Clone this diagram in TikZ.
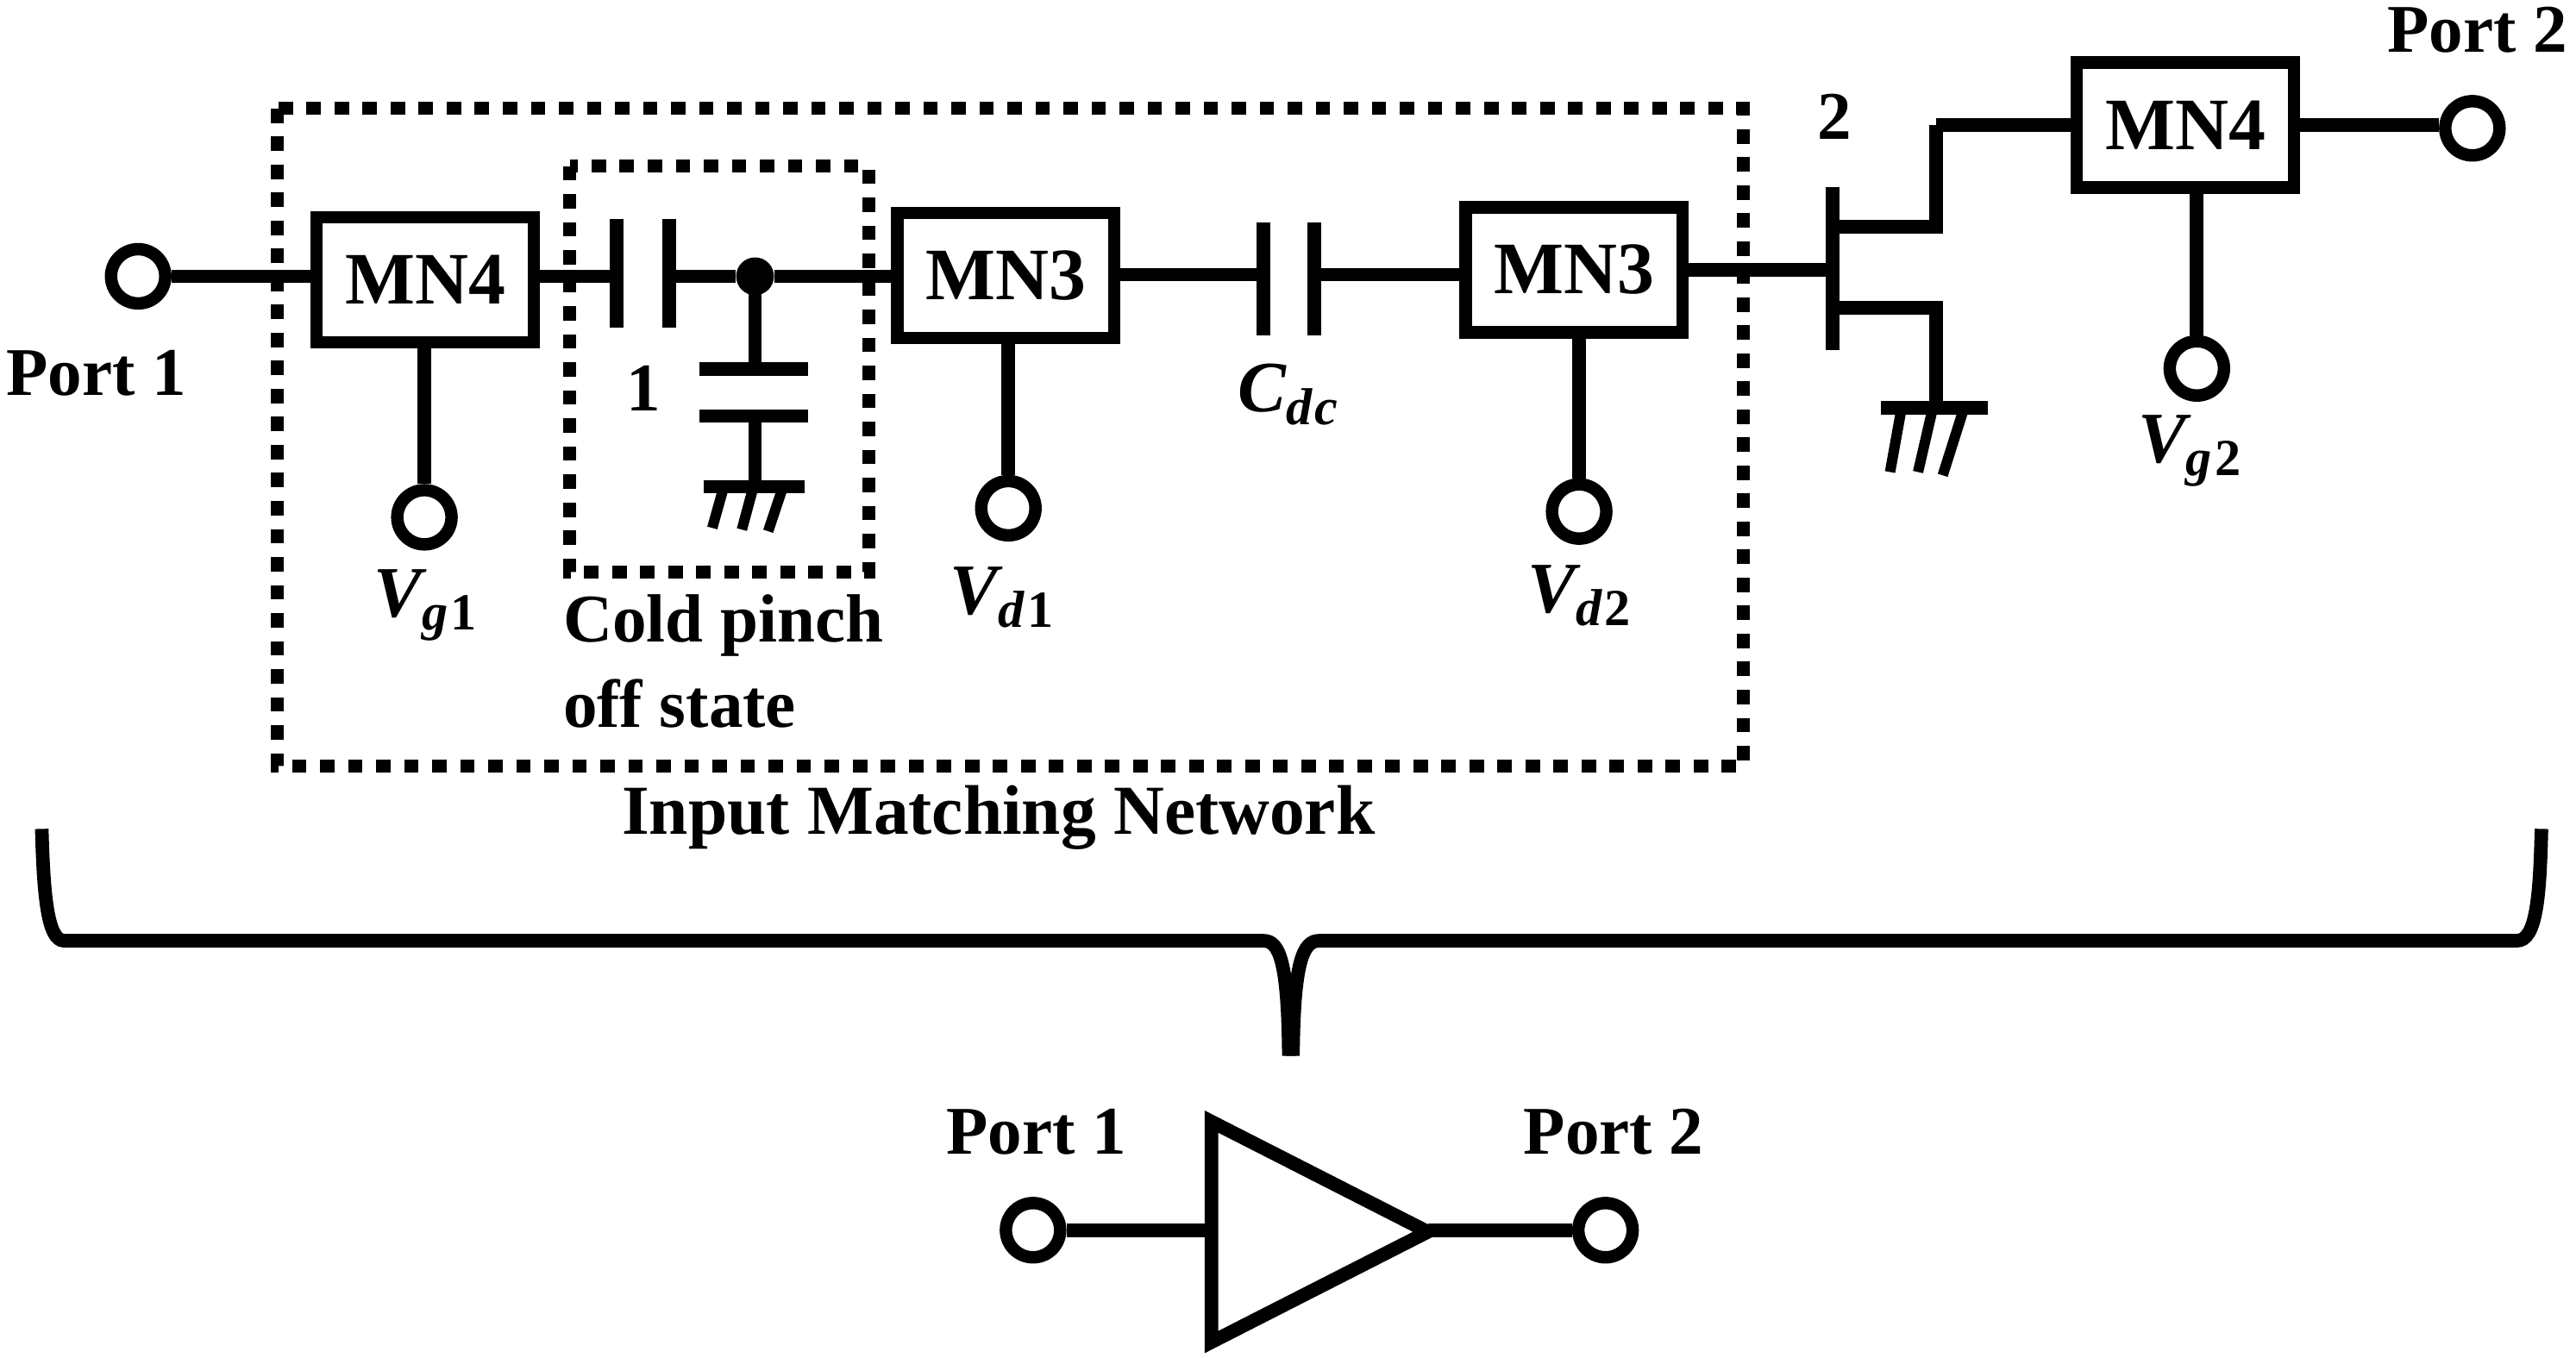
\documentclass[tikz,border=0pt]{standalone}
\usepackage{fontspec}
\setmainfont{Liberation Serif}

\begin{document}
\begin{tikzpicture}[x=0.02cm,y=-0.02cm]
\def \volt#1#2{{\fontsize{25}{28}\selectfont\itshape #1}\raisebox{-4.5pt}{\fontsize{18}{20}\selectfont\itshape #2}}
\tikzset{wire/.style = {line width = 4.7pt}}
\tikzset{hatch/.style = {line width = 3.6pt}}
\tikzset{mnbox/.style = {shape = rectangle,draw,line width = 4.3pt,minimum width = 2.64cm,minimum height = 1.52cm,inner sep = 0pt,font = \fontsize{25.6}{28}\selectfont\bfseries}}
\tikzset{term/.style = {shape = circle,draw,line width = 4.3pt,minimum size = 0.66cm,inner sep = 0pt}}
\tikzset{txt/.style = {inner sep = 0pt,font = \fontsize{23.6}{29.5}\selectfont\bfseries}}
\tikzset{dotbox/.style = {line width = 4.5pt,dash pattern = on 5pt off 4.7pt}}
\useasboundingbox (0,0) rectangle (1566,825.7);

   \draw[dotbox] (168.5,66) rectangle (1060,466);
   \draw[dotbox] (346.5,101) rectangle (528,348);

   \node[term] (porta) at (84,168) {};
   \node[term] (vga) at (258,314.5) {};
   \node[term] (vda) at (613,309) {};
   \node[term] (vdb) at (960,311) {};
   \node[term] (vgb) at (1335.5,224) {};
   \node[term] (portb) at (1503,78) {};
   \node[mnbox] (mnfoura) at (258.5,170) {MN4};
   \node[mnbox] (mnthreea) at (611.5,167.5) {MN3};
   \node[mnbox] (mnthreeb) at (957,164) {MN3};
   \node[mnbox] (mnfourb) at (1328.5,76) {MN4};

%series and shunt capacitors
   \coordinate (capal) at (375,168);
   \coordinate (capar) at (407,168);
   \coordinate (capbl) at (768,167);
   \coordinate (capbr) at (799,167);
   \coordinate (gatem) at (1114,164);
   \coordinate (drain) at (1177,76);
   \coordinate (source) at (1177,187);
   \node[shape = circle,fill = black,minimum size = 0.46cm,inner sep = 0pt] (junc) at (459,168) {};

   \draw[wire] (porta) -- (porta -| mnfoura.west);
   \draw[wire] (mnfoura.east |- capal) -- (capal);
   \draw[wire] (capar) -- (junc) -- (junc -| mnthreea.west);
   \draw[wire] (mnthreea.east |- capbl) -- (capbl);
   \draw[wire] (capbr) -- (capbr -| mnthreeb.west);
   \draw[wire] (mnthreeb.east |- gatem) -- (gatem);
   \draw[wire] (drain) -- (drain -| mnfourb.west);
   \draw[wire] (mnfourb.east) -- (mnfourb.east -| portb.west);
   \draw[wire] (mnfoura.south -| vga) -- (vga);
   \draw[wire] (mnthreea.south -| vda) -- (vda);
   \draw[wire] (mnthreeb.south -| vdb) -- (vdb);
   \draw[wire] (mnfourb.south -| vgb) -- (vgb);

   \draw[wire] (375,133) -- (375,199);
   \draw[wire] (407,133) -- (407,199);
   \draw[wire] (768,135) -- (768,204);
   \draw[wire] (799,135) -- (799,204);
   \draw[wire] (459,168) -- (459,224);
   \draw[wire] (425,224.5) -- (491,224.5);
   \draw[wire] (425,253) -- (491,253);
   \draw[wire] (459,253) -- (459,296);
   \draw[wire] (428,296) -- (489,296);
   \draw[hatch] (440,296) -- (433,321);
   \draw[hatch] (458,296) -- (451,322);
   \draw[hatch] (476,296) -- (467,323);

%transistor
   \draw[wire] (1114,114) -- (1114,213);
   \draw[wire] (1114,138) -- (1177,138) -- (drain);
   \draw[wire] (1114,187) -- (source) -- (1177,248);
   \draw[wire] (1143.5,248) -- (1208.5,248);
   \draw[hatch] (1156,248) -- (1149,287);
   \draw[hatch] (1175,248) -- (1166,287);
   \draw[hatch] (1194,248) -- (1181,289);

   \node[txt] (pone) at (58.5,227) {Port 1};
   \node[txt] (ptwo) at (1506,18) {Port 2};
   \node[txt] (capno) at (391,236) {1};
   \node[txt] (fetno) at (1115,71) {2};
   \node[txt,anchor = north west,align = left] (cold) at (342,361) {Cold pinch\\off state};
   \node[txt,font = \fontsize{24.3}{28}\selectfont\bfseries] (imn) at (607,497) {Input Matching Network};
   \node[txt] (lvga) at (258.5,368) {\volt{V}{g\kern1pt\upshape 1}};
   \node[txt] (lvda) at (609,363) {\volt{V}{d\kern1pt\upshape 1}};
   \node[txt] (lvdb) at (960,362) {\volt{V}{d\kern1pt\upshape 2}};
   \node[txt] (lvgb) at (1331,274) {\volt{V}{g\kern1pt\upshape 2}};
   \node[txt] (lcdc) at (783,240) {\volt{C}{d\kern1pt c}};

%brace
   \coordinate (brl) at (25.4,504);
   \coordinate (brr) at (1545,504);
   \draw[wire] (brl) .. controls (26.5,545) and (29,572) .. (39,572) -- (768,572) .. controls (778,572) and (783,585) .. (783.5,642);
   \draw[wire] (brr) .. controls (1544,545) and (1542,572) .. (1530,572) -- (802,572) .. controls (792,572) and (786.5,585) .. (786,642);

%amplifier
   \coordinate (ampa) at (736.5,682);
   \coordinate (ampb) at (736.5,816);
   \coordinate (ampc) at (868,749);
   \node[term] (pina) at (628,748) {};
   \node[term] (pinb) at (976,748) {};
   \draw[wire] (ampa) -- (ampc) -- (ampb) -- cycle;
   \draw[wire] (pina) -- (pina -| ampa);
   \draw[wire] (ampc |- pinb) -- (pinb);
   \node[txt] (ampone) at (630,688) {Port 1};
   \node[txt] (amptwo) at (981,688) {Port 2};
\end{tikzpicture}
\end{document}
